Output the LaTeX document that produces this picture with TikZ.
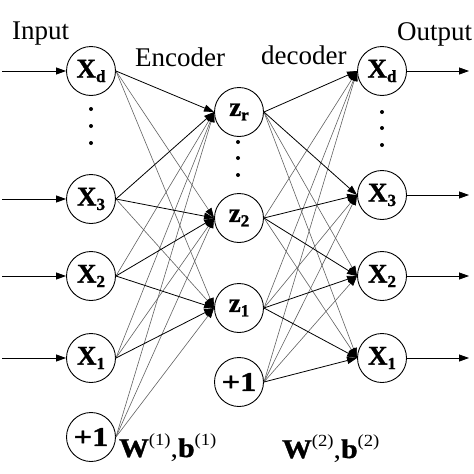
\documentclass[tikz,border=0pt]{standalone}
\usepackage{fontspec}
\setmainfont{Liberation Serif}[BoldFeatures={FakeBold=1.2}]
\usetikzlibrary{arrows.meta}
\newcommand{\nlbl}[2]{\textbf{#1}\raisebox{-4.5pt}{\fontsize{17}{17}\selectfont\textbf{#2}}}
\newcommand{\supl}[1]{\raisebox{12pt}{\fontsize{17}{17}\selectfont #1}}
\begin{document}
\begin{tikzpicture}[x=1pt,y=-1pt,
  neuron/.style={circle,draw,line width=0.9pt,minimum size=49pt,inner sep=0pt,font=\fontsize{27}{27}\selectfont},
  title/.style={anchor=base west,inner sep=0pt,font=\fontsize{27}{27}\selectfont},
  dark/.style={line width=0.8pt,-{Triangle[length=10pt,width=7pt]}},
  light/.style={line width=0.6pt,draw=black!62,-{Triangle[length=10pt,width=7pt,color=black]}},
  io/.style={line width=0.8pt,-{Triangle[length=10pt,width=7pt]}},
  dot/.style={circle,fill,inner sep=0pt,minimum size=4pt}]
\useasboundingbox (0,0) rectangle (474,474);
% input layer
\node[neuron] (xd) at (91,71) {\nlbl{X}{d}};
\node[neuron] (x3) at (91,199) {\nlbl{X}{3}};
\node[neuron] (x2) at (91,276) {\nlbl{X}{2}};
\node[neuron] (x1) at (91,358) {\nlbl{X}{1}};
\node[neuron] (b1) at (91,437) {\scalebox{1.2}[1]{\textbf{+1}}};
% hidden layer
\node[neuron] (zr) at (239,112) {\nlbl{z}{r}};
\node[neuron] (z2) at (239,218) {\nlbl{z}{2}};
\node[neuron] (z1) at (239,308) {\nlbl{z}{1}};
\node[neuron] (b2) at (239,382) {\scalebox{1.2}[1]{\textbf{+1}}};
% output layer
\node[neuron] (yd) at (382,71) {\nlbl{X}{d}};
\node[neuron] (y3) at (382,195) {\nlbl{X}{3}};
\node[neuron] (y2) at (382,276) {\nlbl{X}{2}};
\node[neuron] (y1) at (382,358) {\nlbl{X}{1}};
% dots
\node[dot] (d1) at (91,109) {};
\node[dot] (d2) at (91,126) {};
\node[dot] (d3) at (91,143) {};
\node[dot] (d4) at (238,142) {};
\node[dot] (d5) at (238,158) {};
\node[dot] (d6) at (238,175) {};
\node[dot] (d7) at (382,112) {};
\node[dot] (d8) at (382,128) {};
\node[dot] (d9) at (382,145) {};
% titles
\node[title] (tin) at (12,39) {Input};
\node[title] (tenc) at (135,66) {Encoder};
\node[title] (tdec) at (261,64) {decoder};
\node[title] (tout) at (397,40) {Output};
\node[title] (w1) at (119,457) {\scalebox{1.1}[1]{\textbf{W}\supl{(1)},\textbf{b}\supl{(1)}}};
\node[title] (w2) at (282,458) {\scalebox{1.1}[1]{\textbf{W}\supl{(2)},\textbf{b}\supl{(2)}}};
% input arrows
\coordinate (ixd) at (2,71);
\coordinate (ix3) at (2,199);
\coordinate (ix2) at (2,276);
\coordinate (ix1) at (2,358);
\draw[io] (ixd) -- (xd.west);
\draw[io] (ix3) -- (x3.west);
\draw[io] (ix2) -- (x2.west);
\draw[io] (ix1) -- (x1.west);
% output arrows
\coordinate (oyd) at (469,71);
\coordinate (oy3) at (469,195);
\coordinate (oy2) at (469,276);
\coordinate (oy1) at (469,358);
\draw[io] (yd.east) -- (oyd);
\draw[io] (y3.east) -- (oy3);
\draw[io] (y2.east) -- (oy2);
\draw[io] (y1.east) -- (oy1);
% encoder light edges
\draw[light] (xd.east) -- (z2.west);
\draw[light] (xd.east) -- (z1.west);
\draw[light] (x3.east) -- (z1.west);
\draw[light] (x2.east) -- (zr.west);
\draw[light] (x1.east) -- (zr.west);
\draw[light] (x1.east) -- (z2.west);
\draw[light] (b1.east) -- (zr.west);
\draw[light] (b1.east) -- (z2.west);
\draw[light] (b1.east) -- (z1.west);
% decoder light edges
\draw[light] (zr.east) -- (y2.west);
\draw[light] (zr.east) -- (y1.west);
\draw[light] (z2.east) -- (yd.west);
\draw[light] (z2.east) -- (y1.west);
\draw[light] (z1.east) -- (yd.west);
\draw[light] (z1.east) -- (y3.west);
\draw[light] (b2.east) -- (yd.west);
\draw[light] (b2.east) -- (y3.west);
\draw[light] (b2.east) -- (y2.west);
% encoder dark edges
\draw[dark] (xd.east) -- (zr.west);
\draw[dark] (x3.east) -- (zr.west);
\draw[dark] (x3.east) -- (z2.west);
\draw[dark] (x2.east) -- (z2.west);
\draw[dark] (x2.east) -- (z1.west);
\draw[dark] (x1.east) -- (z1.west);
% decoder dark edges
\draw[dark] (zr.east) -- (yd.west);
\draw[dark] (zr.east) -- (y3.west);
\draw[dark] (z2.east) -- (y3.west);
\draw[dark] (z2.east) -- (y2.west);
\draw[dark] (z1.east) -- (y2.west);
\draw[dark] (z1.east) -- (y1.west);
\draw[dark] (b2.east) -- (y1.west);
\end{tikzpicture}
\end{document}
